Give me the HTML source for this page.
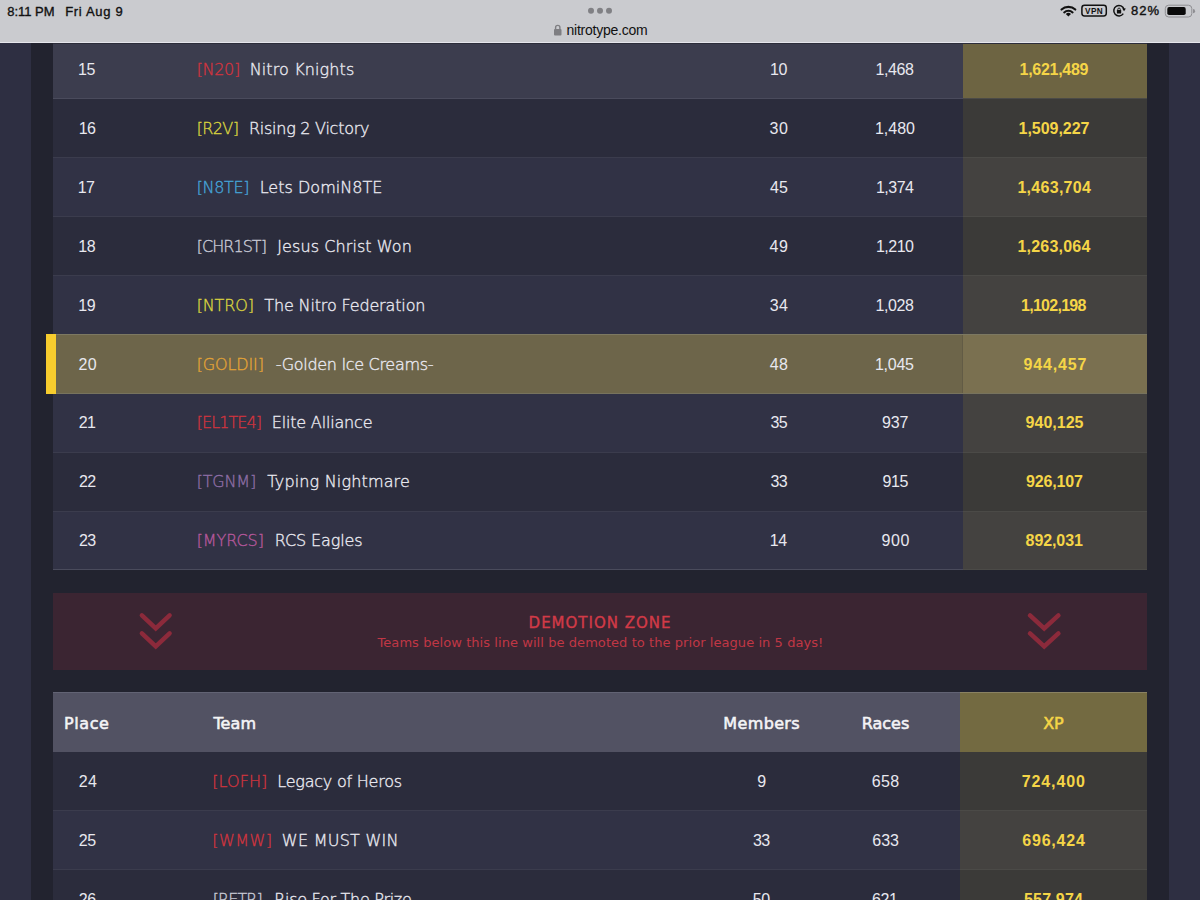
<!DOCTYPE html>
<html><head><meta charset="utf-8"><title>Nitro Type Team Leagues</title>
<style>
*{box-sizing:border-box;margin:0;padding:0}
html,body{width:1200px;height:900px;overflow:hidden;background:#2e2f42}
body{position:relative}
.r{position:absolute}
.x{position:absolute;line-height:20px;white-space:nowrap}
</style></head><body>
<div class="r" style="left:0px;top:0px;width:1200px;height:900px;background:#2e2f42;"></div>
<div class="r" style="left:31px;top:0px;width:1138px;height:900px;background:#22232f;"></div>
<div class="table league-top">
<div class="tr">
<div class="r" style="left:53px;top:40px;width:910px;height:58px;background:#3c3d4e;"></div>
<div class="r" style="left:963px;top:40px;width:184px;height:58px;background:#6d6442;"></div>
<div class="r" style="left:53px;top:98px;width:910px;height:1px;background:#4a4b5c;"></div>
<div class="r" style="left:963px;top:98px;width:184px;height:1px;background:#4b4a47;"></div>
<div class="x" style="left:78.10px;top:60.20px;font-family:'Liberation Sans',sans-serif;font-size:16px;letter-spacing:-0.500px;color:#e8e8ef;">15</div>
<div class="x" style="left:196.70px;top:60.20px;font-family:'DejaVu Sans','Liberation Sans',sans-serif;font-size:16px;font-weight:200;letter-spacing:-0.318px;color:#d0343e;-webkit-text-stroke:0.35px #d0343e;">[N20]</div>
<div class="x" style="left:249.70px;top:60.20px;font-family:'DejaVu Sans','Liberation Sans',sans-serif;font-size:16px;font-weight:200;letter-spacing:0.118px;color:#e8e8ef;-webkit-text-stroke:0.35px #e8e8ef;">Nitro Knights</div>
<div class="x" style="left:770.10px;top:60.20px;font-family:'Liberation Sans',sans-serif;font-size:16px;letter-spacing:-0.500px;color:#e8e8ef;">10</div>
<div class="x" style="left:875.50px;top:60.20px;font-family:'Liberation Sans',sans-serif;font-size:16px;letter-spacing:-0.410px;color:#e8e8ef;">1,468</div>
<div class="x" style="left:1019.50px;top:60.20px;font-family:'Liberation Sans',sans-serif;font-size:16px;font-weight:700;letter-spacing:-0.273px;color:#f5d547;">1,621,489</div>
</div>
<div class="tr">
<div class="r" style="left:53px;top:99px;width:910px;height:58px;background:#2b2c3c;"></div>
<div class="r" style="left:963px;top:99px;width:184px;height:58px;background:#3b3a38;"></div>
<div class="r" style="left:53px;top:157px;width:910px;height:1px;background:#3b3c4d;"></div>
<div class="r" style="left:963px;top:157px;width:184px;height:1px;background:#4b4a47;"></div>
<div class="x" style="left:78.65px;top:119.07px;font-family:'Liberation Sans',sans-serif;font-size:16px;letter-spacing:-0.500px;color:#e8e8ef;">16</div>
<div class="x" style="left:196.70px;top:119.07px;font-family:'DejaVu Sans','Liberation Sans',sans-serif;font-size:16px;font-weight:200;letter-spacing:-0.621px;color:#dad43e;-webkit-text-stroke:0.35px #dad43e;">[R2V]</div>
<div class="x" style="left:249.00px;top:119.07px;font-family:'DejaVu Sans','Liberation Sans',sans-serif;font-size:16px;font-weight:200;letter-spacing:-0.261px;color:#e8e8ef;-webkit-text-stroke:0.35px #e8e8ef;">Rising 2 Victory</div>
<div class="x" style="left:769.50px;top:119.07px;font-family:'Liberation Sans',sans-serif;font-size:16px;letter-spacing:0.500px;color:#e8e8ef;">30</div>
<div class="x" style="left:875.00px;top:119.07px;font-family:'Liberation Sans',sans-serif;font-size:16px;letter-spacing:-0.035px;color:#e8e8ef;">1,480</div>
<div class="x" style="left:1018.60px;top:119.07px;font-family:'Liberation Sans',sans-serif;font-size:16px;font-weight:700;letter-spacing:-0.048px;color:#f5d547;">1,509,227</div>
</div>
<div class="tr">
<div class="r" style="left:53px;top:158px;width:910px;height:58px;background:#313245;"></div>
<div class="r" style="left:963px;top:158px;width:184px;height:58px;background:#444240;"></div>
<div class="r" style="left:53px;top:216px;width:910px;height:1px;background:#3b3c4d;"></div>
<div class="r" style="left:963px;top:216px;width:184px;height:1px;background:#4b4a47;"></div>
<div class="x" style="left:77.65px;top:177.95px;font-family:'Liberation Sans',sans-serif;font-size:16px;letter-spacing:-0.500px;color:#e8e8ef;">17</div>
<div class="x" style="left:196.70px;top:177.95px;font-family:'DejaVu Sans','Liberation Sans',sans-serif;font-size:16px;font-weight:200;letter-spacing:-0.335px;color:#45a3d8;-webkit-text-stroke:0.35px #45a3d8;">[N8TE]</div>
<div class="x" style="left:259.70px;top:177.95px;font-family:'DejaVu Sans','Liberation Sans',sans-serif;font-size:16px;font-weight:200;letter-spacing:0.030px;color:#e8e8ef;-webkit-text-stroke:0.35px #e8e8ef;">Lets DomiN8TE</div>
<div class="x" style="left:770.00px;top:177.95px;font-family:'Liberation Sans',sans-serif;font-size:16px;letter-spacing:0.102px;color:#e8e8ef;">45</div>
<div class="x" style="left:875.93px;top:177.95px;font-family:'Liberation Sans',sans-serif;font-size:16px;letter-spacing:-0.500px;color:#e8e8ef;">1,374</div>
<div class="x" style="left:1017.40px;top:177.95px;font-family:'Liberation Sans',sans-serif;font-size:16px;font-weight:700;letter-spacing:0.290px;color:#f5d547;">1,463,704</div>
</div>
<div class="tr">
<div class="r" style="left:53px;top:217px;width:910px;height:58px;background:#2b2c3c;"></div>
<div class="r" style="left:963px;top:217px;width:184px;height:58px;background:#3b3a38;"></div>
<div class="r" style="left:53px;top:275px;width:910px;height:1px;background:#3b3c4d;"></div>
<div class="r" style="left:963px;top:275px;width:184px;height:1px;background:#4b4a47;"></div>
<div class="x" style="left:78.30px;top:236.82px;font-family:'Liberation Sans',sans-serif;font-size:16px;letter-spacing:-0.500px;color:#e8e8ef;">18</div>
<div class="x" style="left:196.70px;top:236.82px;font-family:'DejaVu Sans','Liberation Sans',sans-serif;font-size:16px;font-weight:200;letter-spacing:-0.953px;color:#c8cad6;-webkit-text-stroke:0.35px #c8cad6;">[CHR1ST]</div>
<div class="x" style="left:277.30px;top:236.82px;font-family:'DejaVu Sans','Liberation Sans',sans-serif;font-size:16px;font-weight:200;letter-spacing:0.082px;color:#e8e8ef;-webkit-text-stroke:0.35px #e8e8ef;">Jesus Christ Won</div>
<div class="x" style="left:769.50px;top:236.82px;font-family:'Liberation Sans',sans-serif;font-size:16px;letter-spacing:0.500px;color:#e8e8ef;">49</div>
<div class="x" style="left:875.98px;top:236.82px;font-family:'Liberation Sans',sans-serif;font-size:16px;letter-spacing:-0.500px;color:#e8e8ef;">1,210</div>
<div class="x" style="left:1017.40px;top:236.82px;font-family:'Liberation Sans',sans-serif;font-size:16px;font-weight:700;letter-spacing:0.215px;color:#f5d547;">1,263,064</div>
</div>
<div class="tr">
<div class="r" style="left:53px;top:276px;width:910px;height:58px;background:#313245;"></div>
<div class="r" style="left:963px;top:276px;width:184px;height:58px;background:#444240;"></div>
<div class="r" style="left:53px;top:334px;width:910px;height:1px;background:#3b3c4d;"></div>
<div class="r" style="left:963px;top:334px;width:184px;height:1px;background:#4b4a47;"></div>
<div class="x" style="left:78.30px;top:295.70px;font-family:'Liberation Sans',sans-serif;font-size:16px;letter-spacing:-0.500px;color:#e8e8ef;">19</div>
<div class="x" style="left:196.70px;top:295.70px;font-family:'DejaVu Sans','Liberation Sans',sans-serif;font-size:16px;font-weight:200;letter-spacing:-0.139px;color:#dad43e;-webkit-text-stroke:0.35px #dad43e;">[NTRO]</div>
<div class="x" style="left:264.30px;top:295.70px;font-family:'DejaVu Sans','Liberation Sans',sans-serif;font-size:16px;font-weight:200;letter-spacing:-0.142px;color:#e8e8ef;-webkit-text-stroke:0.35px #e8e8ef;">The Nitro Federation</div>
<div class="x" style="left:769.70px;top:295.70px;font-family:'Liberation Sans',sans-serif;font-size:16px;letter-spacing:0.402px;color:#e8e8ef;">34</div>
<div class="x" style="left:875.50px;top:295.70px;font-family:'Liberation Sans',sans-serif;font-size:16px;letter-spacing:-0.410px;color:#e8e8ef;">1,028</div>
<div class="x" style="left:1021.00px;top:295.70px;font-family:'Liberation Sans',sans-serif;font-size:16px;font-weight:700;letter-spacing:-0.723px;color:#f5d547;">1,102,198</div>
</div>
<div class="tr is-mine">
<div class="r" style="left:53px;top:335px;width:910px;height:58px;background:#6d654a;"></div>
<div class="r" style="left:963px;top:335px;width:184px;height:58px;background:#7a7050;"></div>
<div class="r" style="left:53px;top:334px;width:1094px;height:1px;background:#7c7862;"></div>
<div class="r" style="left:53px;top:393px;width:1094px;height:1px;background:#77735e;"></div>
<div class="r" style="left:962px;top:335px;width:1px;height:58px;background:#625b45;"></div>
<div class="r" style="left:46px;top:334px;width:10px;height:60px;background:#f7cc2e;"></div>
<div class="x" style="left:78.45px;top:354.57px;font-family:'Liberation Sans',sans-serif;font-size:16px;letter-spacing:0.500px;color:#e8e8ef;">20</div>
<div class="x" style="left:196.70px;top:354.57px;font-family:'DejaVu Sans','Liberation Sans',sans-serif;font-size:16px;font-weight:200;letter-spacing:-0.129px;color:#e2a336;-webkit-text-stroke:0.35px #e2a336;">[GOLDII]</div>
<div class="x" style="left:275.70px;top:354.57px;font-family:'DejaVu Sans','Liberation Sans',sans-serif;font-size:16px;font-weight:200;letter-spacing:-0.313px;color:#e8e8ef;-webkit-text-stroke:0.35px #e8e8ef;">-Golden Ice Creams-</div>
<div class="x" style="left:769.70px;top:354.57px;font-family:'Liberation Sans',sans-serif;font-size:16px;letter-spacing:0.402px;color:#e8e8ef;">48</div>
<div class="x" style="left:875.00px;top:354.57px;font-family:'Liberation Sans',sans-serif;font-size:16px;letter-spacing:-0.285px;color:#e8e8ef;">1,045</div>
<div class="x" style="left:1023.50px;top:354.57px;font-family:'Liberation Sans',sans-serif;font-size:16px;font-weight:700;letter-spacing:0.844px;color:#f5d547;">944,457</div>
</div>
<div class="tr">
<div class="r" style="left:53px;top:394px;width:910px;height:58px;background:#313245;"></div>
<div class="r" style="left:963px;top:394px;width:184px;height:58px;background:#444240;"></div>
<div class="r" style="left:53px;top:452px;width:910px;height:1px;background:#3b3c4d;"></div>
<div class="r" style="left:963px;top:452px;width:184px;height:1px;background:#4b4a47;"></div>
<div class="x" style="left:78.65px;top:413.45px;font-family:'Liberation Sans',sans-serif;font-size:16px;letter-spacing:-0.500px;color:#e8e8ef;">21</div>
<div class="x" style="left:196.70px;top:413.45px;font-family:'DejaVu Sans','Liberation Sans',sans-serif;font-size:16px;font-weight:200;letter-spacing:-0.930px;color:#d0343e;-webkit-text-stroke:0.35px #d0343e;">[EL1TE4]</div>
<div class="x" style="left:271.70px;top:413.45px;font-family:'DejaVu Sans','Liberation Sans',sans-serif;font-size:16px;font-weight:200;letter-spacing:-0.171px;color:#e8e8ef;-webkit-text-stroke:0.35px #e8e8ef;">Elite Alliance</div>
<div class="x" style="left:770.45px;top:413.45px;font-family:'Liberation Sans',sans-serif;font-size:16px;letter-spacing:-0.500px;color:#e8e8ef;">35</div>
<div class="x" style="left:881.90px;top:413.45px;font-family:'Liberation Sans',sans-serif;font-size:16px;letter-spacing:-0.048px;color:#e8e8ef;">937</div>
<div class="x" style="left:1025.60px;top:413.45px;font-family:'Liberation Sans',sans-serif;font-size:16px;font-weight:700;color:#f5d547;">940,125</div>
</div>
<div class="tr">
<div class="r" style="left:53px;top:453px;width:910px;height:58px;background:#2b2c3c;"></div>
<div class="r" style="left:963px;top:453px;width:184px;height:58px;background:#3b3a38;"></div>
<div class="r" style="left:53px;top:511px;width:910px;height:1px;background:#3b3c4d;"></div>
<div class="r" style="left:963px;top:511px;width:184px;height:1px;background:#4b4a47;"></div>
<div class="x" style="left:78.95px;top:472.32px;font-family:'Liberation Sans',sans-serif;font-size:16px;letter-spacing:-0.500px;color:#e8e8ef;">22</div>
<div class="x" style="left:196.70px;top:472.32px;font-family:'DejaVu Sans','Liberation Sans',sans-serif;font-size:16px;font-weight:200;letter-spacing:-0.177px;color:#8e6ea6;-webkit-text-stroke:0.35px #8e6ea6;">[TGNM]</div>
<div class="x" style="left:267.30px;top:472.32px;font-family:'DejaVu Sans','Liberation Sans',sans-serif;font-size:16px;font-weight:200;letter-spacing:0.165px;color:#e8e8ef;-webkit-text-stroke:0.35px #e8e8ef;">Typing Nightmare</div>
<div class="x" style="left:770.45px;top:472.32px;font-family:'Liberation Sans',sans-serif;font-size:16px;letter-spacing:-0.500px;color:#e8e8ef;">33</div>
<div class="x" style="left:882.60px;top:472.32px;font-family:'Liberation Sans',sans-serif;font-size:16px;letter-spacing:-0.500px;color:#e8e8ef;">915</div>
<div class="x" style="left:1026.00px;top:472.32px;font-family:'Liberation Sans',sans-serif;font-size:16px;font-weight:700;letter-spacing:-0.156px;color:#f5d547;">926,107</div>
</div>
<div class="tr">
<div class="r" style="left:53px;top:512px;width:910px;height:57px;background:#313245;"></div>
<div class="r" style="left:963px;top:512px;width:184px;height:57px;background:#444240;"></div>
<div class="r" style="left:53px;top:569px;width:910px;height:1px;background:#4a4b5c;"></div>
<div class="r" style="left:963px;top:569px;width:184px;height:1px;background:#4b4a47;"></div>
<div class="x" style="left:78.90px;top:531.20px;font-family:'Liberation Sans',sans-serif;font-size:16px;letter-spacing:-0.500px;color:#e8e8ef;">23</div>
<div class="x" style="left:196.70px;top:531.20px;font-family:'DejaVu Sans','Liberation Sans',sans-serif;font-size:16px;font-weight:200;letter-spacing:-0.078px;color:#b6589c;-webkit-text-stroke:0.35px #b6589c;">[MYRCS]</div>
<div class="x" style="left:274.70px;top:531.20px;font-family:'DejaVu Sans','Liberation Sans',sans-serif;font-size:16px;font-weight:200;letter-spacing:-0.104px;color:#e8e8ef;-webkit-text-stroke:0.35px #e8e8ef;">RCS Eagles</div>
<div class="x" style="left:769.80px;top:531.20px;font-family:'Liberation Sans',sans-serif;font-size:16px;letter-spacing:-0.500px;color:#e8e8ef;">14</div>
<div class="x" style="left:881.60px;top:531.20px;font-family:'Liberation Sans',sans-serif;font-size:16px;letter-spacing:0.500px;color:#e8e8ef;">900</div>
<div class="x" style="left:1025.60px;top:531.20px;font-family:'Liberation Sans',sans-serif;font-size:16px;font-weight:700;letter-spacing:-0.090px;color:#f5d547;">892,031</div>
</div>
<div class="r" style="left:53px;top:43px;width:1094px;height:1px;background:#2c2d3a;"></div>
</div>
<div class="demotion">
<div class="r" style="left:53px;top:593px;width:1094px;height:77px;background:#3b2532;"></div>
<svg class="r" style="left:0;top:0" width="1200" height="900" viewBox="0 0 1200 900">
<g fill="none" stroke="#8c2a3b" stroke-width="4.5" stroke-linecap="round" stroke-linejoin="miter">
<path d="M141.9 615.4 L155.75 628.4 L169.6 615.4"/><path d="M141.9 633.4 L155.75 646.4 L169.6 633.4"/>
<path d="M1030 615.4 L1044.2 628.4 L1058.4 615.4"/><path d="M1030 633.4 L1044.2 646.4 L1058.4 633.4"/>
</g></svg>
<div class="x" style="left:528.60px;top:612.90px;font-family:'DejaVu Sans','Liberation Sans',sans-serif;font-size:15px;letter-spacing:0.995px;color:#d13a47;-webkit-text-stroke:0.4px #d13a47;">DEMOTION ZONE</div>
<div class="x" style="left:377.50px;top:632.70px;font-family:'DejaVu Sans','Liberation Sans',sans-serif;font-size:13px;letter-spacing:0.066px;color:#c03745;">Teams below this line will be demoted to the prior league in 5 days!</div>
</div>
<div class="table league-bottom">
<div class="thead">
<div class="r" style="left:53px;top:693px;width:1094px;height:59px;background:#525263;"></div>
<div class="r" style="left:53px;top:692px;width:1094px;height:1px;background:#626374;"></div>
<div class="r" style="left:960px;top:693px;width:187px;height:59px;background:#736a41;"></div>
<div class="r" style="left:960px;top:692px;width:187px;height:1px;background:#8a8262;"></div>
<div class="x" style="left:64.00px;top:713.60px;font-family:'DejaVu Sans','Liberation Sans',sans-serif;font-size:16px;letter-spacing:0.576px;color:#f4f4f6;-webkit-text-stroke:0.55px #f4f4f6;">Place</div>
<div class="x" style="left:213.40px;top:713.60px;font-family:'DejaVu Sans','Liberation Sans',sans-serif;font-size:16px;letter-spacing:0.166px;color:#f4f4f6;-webkit-text-stroke:0.55px #f4f4f6;">Team</div>
<div class="x" style="left:723.30px;top:713.60px;font-family:'DejaVu Sans','Liberation Sans',sans-serif;font-size:16px;letter-spacing:0.365px;color:#f4f4f6;-webkit-text-stroke:0.55px #f4f4f6;">Members</div>
<div class="x" style="left:861.70px;top:713.60px;font-family:'DejaVu Sans','Liberation Sans',sans-serif;font-size:16px;letter-spacing:0.022px;color:#f4f4f6;-webkit-text-stroke:0.55px #f4f4f6;">Races</div>
<div class="x" style="left:1043.30px;top:713.60px;font-family:'DejaVu Sans','Liberation Sans',sans-serif;font-size:16px;letter-spacing:-0.261px;color:#f5d547;-webkit-text-stroke:0.55px #f5d547;">XP</div>
</div>
<div class="tr">
<div class="r" style="left:53px;top:752px;width:907px;height:58px;background:#2b2c3c;"></div>
<div class="r" style="left:960px;top:752px;width:187px;height:58px;background:#3b3a38;"></div>
<div class="r" style="left:53px;top:810px;width:907px;height:1px;background:#3b3c4d;"></div>
<div class="r" style="left:960px;top:810px;width:187px;height:1px;background:#4b4a47;"></div>
<div class="x" style="left:78.80px;top:772.20px;font-family:'Liberation Sans',sans-serif;font-size:16px;letter-spacing:0.302px;color:#e8e8ef;">24</div>
<div class="x" style="left:212.30px;top:772.20px;font-family:'DejaVu Sans','Liberation Sans',sans-serif;font-size:16px;font-weight:200;letter-spacing:0.057px;color:#d0343e;-webkit-text-stroke:0.35px #d0343e;">[LOFH]</div>
<div class="x" style="left:277.30px;top:772.20px;font-family:'DejaVu Sans','Liberation Sans',sans-serif;font-size:16px;font-weight:200;letter-spacing:-0.231px;color:#e8e8ef;-webkit-text-stroke:0.35px #e8e8ef;">Legacy of Heros</div>
<div class="x" style="left:757.30px;top:772.20px;font-family:'Liberation Sans',sans-serif;font-size:16px;color:#e8e8ef;">9</div>
<div class="x" style="left:871.70px;top:772.20px;font-family:'Liberation Sans',sans-serif;font-size:16px;letter-spacing:0.402px;color:#e8e8ef;">658</div>
<div class="x" style="left:1021.70px;top:772.20px;font-family:'Liberation Sans',sans-serif;font-size:16px;font-weight:700;letter-spacing:0.894px;color:#f5d547;">724,400</div>
</div>
<div class="tr">
<div class="r" style="left:53px;top:811px;width:907px;height:58px;background:#313245;"></div>
<div class="r" style="left:960px;top:811px;width:187px;height:58px;background:#444240;"></div>
<div class="r" style="left:53px;top:869px;width:907px;height:1px;background:#3b3c4d;"></div>
<div class="r" style="left:960px;top:869px;width:187px;height:1px;background:#4b4a47;"></div>
<div class="x" style="left:78.80px;top:831.20px;font-family:'Liberation Sans',sans-serif;font-size:16px;letter-spacing:-0.500px;color:#e8e8ef;">25</div>
<div class="x" style="left:212.30px;top:831.20px;font-family:'DejaVu Sans','Liberation Sans',sans-serif;font-size:16px;font-weight:200;letter-spacing:0.428px;color:#d0343e;-webkit-text-stroke:0.35px #d0343e;">[WMW]</div>
<div class="x" style="left:281.80px;top:831.20px;font-family:'DejaVu Sans','Liberation Sans',sans-serif;font-size:16px;font-weight:200;letter-spacing:0.271px;color:#e8e8ef;-webkit-text-stroke:0.35px #e8e8ef;">WE MUST WIN</div>
<div class="x" style="left:752.95px;top:831.20px;font-family:'Liberation Sans',sans-serif;font-size:16px;letter-spacing:-0.500px;color:#e8e8ef;">33</div>
<div class="x" style="left:872.30px;top:831.20px;font-family:'Liberation Sans',sans-serif;font-size:16px;letter-spacing:-0.048px;color:#e8e8ef;">633</div>
<div class="x" style="left:1022.30px;top:831.20px;font-family:'Liberation Sans',sans-serif;font-size:16px;font-weight:700;letter-spacing:0.794px;color:#f5d547;">696,424</div>
</div>
<div class="tr">
<div class="r" style="left:53px;top:870px;width:907px;height:58px;background:#2b2c3c;"></div>
<div class="r" style="left:960px;top:870px;width:187px;height:58px;background:#3b3a38;"></div>
<div class="r" style="left:53px;top:928px;width:907px;height:1px;background:#3b3c4d;"></div>
<div class="r" style="left:960px;top:928px;width:187px;height:1px;background:#4b4a47;"></div>
<div class="x" style="left:78.80px;top:890.20px;font-family:'Liberation Sans',sans-serif;font-size:16px;letter-spacing:-0.500px;color:#e8e8ef;">26</div>
<div class="x" style="left:212.80px;top:890.20px;font-family:'DejaVu Sans','Liberation Sans',sans-serif;font-size:16px;font-weight:200;letter-spacing:-0.932px;color:#c8cad6;-webkit-text-stroke:0.35px #c8cad6;">[RETR]</div>
<div class="x" style="left:274.20px;top:890.20px;font-family:'DejaVu Sans','Liberation Sans',sans-serif;font-size:16px;font-weight:200;letter-spacing:-0.279px;color:#e8e8ef;-webkit-text-stroke:0.35px #e8e8ef;">Rise For The Prize</div>
<div class="x" style="left:752.80px;top:890.20px;font-family:'Liberation Sans',sans-serif;font-size:16px;letter-spacing:-0.500px;color:#e8e8ef;">50</div>
<div class="x" style="left:872.00px;top:890.20px;font-family:'Liberation Sans',sans-serif;font-size:16px;letter-spacing:-0.398px;color:#e8e8ef;">621</div>
<div class="x" style="left:1024.00px;top:890.20px;font-family:'Liberation Sans',sans-serif;font-size:16px;font-weight:700;letter-spacing:0.177px;color:#f5d547;">557,974</div>
</div>
</div>
<div class="statusbar">
<div class="r" style="left:0;top:0;width:1200px;height:42px;background:#cacbcf"></div>
<div class="r" style="left:0;top:42px;width:1200px;height:1px;background:#e6e6ec"></div>
<svg class="r" style="left:0;top:0" width="1200" height="43" viewBox="0 0 1200 43">
<g fill="#808084"><circle cx="591" cy="10.8" r="3"/><circle cx="600" cy="10.8" r="3"/><circle cx="609" cy="10.8" r="3"/></g>
<g fill="#7e7e82"><rect x="554" y="29" width="7.5" height="6.5" rx="1"/><path d="M555.6 29.5 V27.5 a2.15 2.15 0 0 1 4.3 0 V29.5" fill="none" stroke="#7e7e82" stroke-width="1.4"/></g>
<g fill="none" stroke="#111" stroke-width="2.1" stroke-linecap="round">
<path d="M1061.5 9.6 A10 10 0 0 1 1075.3 9.6"/>
<path d="M1064.2 12.4 A6.1 6.1 0 0 1 1072.6 12.4"/>
</g>
<path d="M1068.4 16.6 L1065.8 14.1 A3.6 3.6 0 0 1 1071 14.1 Z" fill="#111"/>
<rect x="1081.9" y="5.3" width="24.4" height="10.6" rx="2.6" fill="none" stroke="#111" stroke-width="1.5"/>
<text x="1094.1" y="13.8" text-anchor="middle" font-family="Liberation Sans, sans-serif" font-weight="700" font-size="8.2" letter-spacing="0.5" fill="#111">VPN</text>
<path d="M1124.0 9.3 A5.2 5.2 0 1 0 1123.3 13.6" fill="none" stroke="#111" stroke-width="1.5"/>
<path d="M1122.2 8.4 L1125.9 8.4 L1124.05 11.3 Z" fill="#111"/>
<rect x="1116.9" y="10.0" width="4.3" height="3.4" rx="0.5" fill="#111"/>
<path d="M1117.8 10.2 v-0.9 a1.25 1.25 0 0 1 2.5 0 v0.9" fill="none" stroke="#111" stroke-width="0.9"/>
<rect x="1165.3" y="5.2" width="26.5" height="11.8" rx="3.4" fill="none" stroke="#8e8e92" stroke-width="1"/>
<rect x="1167.3" y="7.1" width="18.4" height="8" rx="1.8" fill="#0a0a0a"/>
<path d="M1193 9.1 a2 2 0 0 1 0 4.2 z" fill="#8e8e92"/>
</svg>
<div class="x" style="left:7.25px;top:1.50px;font-family:'Liberation Sans',sans-serif;font-size:13px;letter-spacing:-0.020px;color:#111;-webkit-text-stroke:0.35px #111;">8:11 PM</div>
<div class="x" style="left:65.25px;top:1.50px;font-family:'Liberation Sans',sans-serif;font-size:13px;letter-spacing:0.667px;color:#111;-webkit-text-stroke:0.35px #111;">Fri Aug 9</div>
<div class="x" style="left:1131.12px;top:1.30px;font-family:'Liberation Sans',sans-serif;font-size:13px;letter-spacing:1.000px;color:#111;-webkit-text-stroke:0.4px #111;">82%</div>
<div class="x" style="left:566.50px;top:19.50px;font-family:'Liberation Sans',sans-serif;font-size:14px;letter-spacing:-0.239px;color:#111;">nitrotype.com</div>
</div>
</body></html>
